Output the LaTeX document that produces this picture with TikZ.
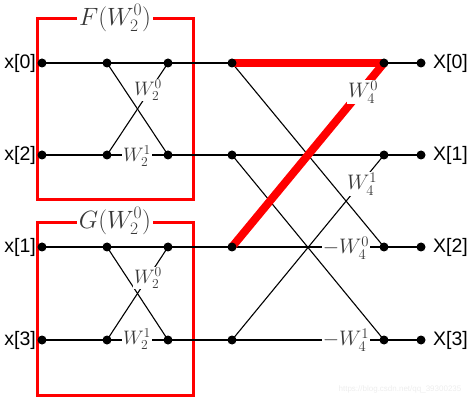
\documentclass[tikz,border=0pt]{standalone}
\usepackage{fix-cm}
\usepackage{fontspec}
\newfontfamily\lblfont{Liberation Sans}
\begin{document}
\begin{tikzpicture}[x=1pt,y=-1pt,
  dot/.style={circle,fill=black,inner sep=0pt,minimum size=9pt},
  hline/.style={line width=2pt},
  hthin/.style={line width=1.5pt},
  hthick/.style={line width=2.5pt},
  dline/.style={line width=1.1pt},
  redbox/.style={draw=red,line width=3pt},
  redpath/.style={draw=red,line width=8pt},
  wlbl/.style={fill=white,inner sep=1pt,text=black!78,font=\fontsize{19.5}{23}\selectfont},
  wlblb/.style={fill=white,inner sep=1pt,text=black!78,font=\fontsize{21}{25}\selectfont},
  boxlbl/.style={fill=white,inner sep=2pt,text=black!78,font=\fontsize{25}{30}\selectfont},
  inlbl/.style={anchor=east,inner sep=0pt,font=\lblfont\fontsize{19.5}{23}\selectfont},
  outlbl/.style={anchor=west,inner sep=0pt,font=\lblfont\fontsize{19.5}{23}\selectfont}]
\useasboundingbox (0,0) rectangle (474,406);
% red boxes
\draw[redbox] (37,19) rectangle (193,200);
\draw[redbox] (37,223) rectangle (193,395);
\node[boxlbl] (F) at (115,18) {$F(W_2^0)$};
\node[boxlbl] (G) at (115,221) {$G(W_2^0)$};
% dots coordinates
\foreach \r/\y in {0/63,1/155,2/247,3/340}{
  \foreach \c/\x in {0/42,1/107,2/168,3/232,4/384,5/421}{
    \coordinate (p\c\r) at (\x,\y);
  }
}
% horizontal lines
\foreach \r in {0,1,2,3}{
  \draw[hline] (p0\r) -- (p3\r);
  \draw[hthin] (p3\r) -- (p4\r);
  \draw[hthick] (p4\r) -- (p5\r);
}
% stage 1 butterflies
\draw[dline] (p10) -- (p21);
\draw[dline] (p11) -- (p20);
\draw[dline] (p12) -- (p23);
\draw[dline] (p13) -- (p22);
% stage 2
\draw[dline] (p30) -- (p42);
\draw[dline] (p31) -- (p43);
\draw[dline] (p33) -- (p41);
\draw[redpath] (p30) -- (p40);
\draw[redpath] (p32) -- (p40);
% labels on branches
\node[wlbl] (a) at (148,90) {$W_2^0$};
\node[wlbl] (b) at (137,156) {$W_2^1$};
\node[wlbl] (c) at (148,278) {$W_2^0$};
\node[wlbl] (d) at (137,339) {$W_2^1$};
\node[wlblb] (e) at (363,92) {$W_4^0$};
\node[wlblb] (f) at (362,184) {$W_4^1$};
\node[wlblb] (g) at (346,248) {$-W_4^0$};
\node[wlblb] (h) at (346,340) {$-W_4^1$};
% dots
\foreach \r in {0,1,2,3}{
  \foreach \c in {0,1,2,3,4,5}{
    \node[dot] (d\c\r) at (p\c\r) {};
  }
}
% input / output labels
\node[inlbl] (x0) at (36,63) {x[0]};
\node[inlbl] (x2) at (36,155) {x[2]};
\node[inlbl] (x1) at (36,247) {x[1]};
\node[inlbl] (x3) at (36,340) {x[3]};
\node[outlbl] (X0) at (433,63) {X[0]};
\node[outlbl] (X1) at (433,155) {X[1]};
\node[outlbl] (X2) at (433,247) {X[2]};
\node[outlbl] (X3) at (433,340) {X[3]};
\node[text=black!7,font=\lblfont\fontsize{8}{10}\selectfont] (wm) at (400,389) {https://blog.csdn.net/qq\_39300235};
\end{tikzpicture}
\end{document}
